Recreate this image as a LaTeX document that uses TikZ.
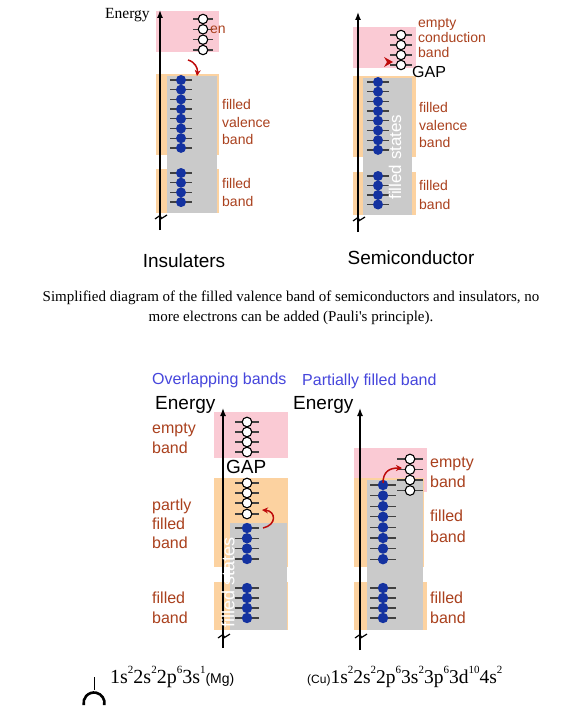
\documentclass[tikz,border=0pt]{standalone}
\usepackage{fontspec}
\setmainfont{Liberation Serif}[Ligatures=TeXOff]
\setsansfont{Liberation Sans}
\usetikzlibrary{arrows.meta}
\definecolor{pinkband}{RGB}{250,202,212}
\definecolor{orangeband}{RGB}{252,210,160}
\definecolor{grayband}{RGB}{202,202,202}
\definecolor{dotblue}{RGB}{20,50,160}
\definecolor{labelbrown}{RGB}{170,65,30}
\definecolor{titleblue}{RGB}{70,70,220}
\definecolor{arrowred}{RGB}{190,10,10}
\newcommand\supx[1]{\raisebox{10pt}{\fontsize{11}{11}\selectfont #1}}
\begin{document}
\begin{tikzpicture}[x=1pt,y=-1pt,
  axisline/.style={line width=1.4pt,-{Latex[length=8pt,width=6pt]}},
  tickline/.style={line width=1.3pt,draw=black!75},
  emptystate/.style={draw=black,fill=white,line width=1.1pt},
  fullstate/.style={fill=dotblue},
  lbl/.style={font=\fontsize{14}{17.5}\selectfont\sffamily,text=labelbrown,align=left,anchor=west,inner sep=0pt},
  biglbl/.style={font=\fontsize{16}{19.5}\selectfont\sffamily,text=labelbrown,align=left,anchor=west,inner sep=0pt},
  ttl/.style={font=\fontsize{19}{22}\selectfont\sffamily,inner sep=0pt},
  bluettl/.style={font=\fontsize{16}{19}\selectfont\sffamily,text=titleblue,anchor=west,inner sep=0pt},
  redarrow/.style={draw=arrowred,line width=1.5pt,-{Stealth[length=6pt,width=6pt]}},
  brk/.style={line width=1.2pt}
]
\useasboundingbox (0,0) rectangle (587,706);
\fill[white] (0,0) rectangle (587,706);

% ===== Panel 1: Insulaters =====
\fill[pinkband] (156,11) rectangle (219,52);
\fill[orangeband] (156,74) rectangle (219,155);
\fill[orangeband] (156,169) rectangle (219,213);
\fill[grayband] (167,76) rectangle (217,213);
\draw[axisline] (160,230) -- (160,10);
\draw[brk] (155,219) -- (160,215.5) -- (161.5,218.5) -- (167,215);
\foreach \y in {19,29.3,39.7,50} {
  \draw[tickline] (193,\y) -- (213,\y);
  \draw[emptystate] (203,\y) circle (4.7);
}
\foreach \y in {80,89.7,99.4,109.1,118.8,128.5,138.2,147.9,173,182.7,192.4,202.1} {
  \draw[tickline] (170,\y) -- (192,\y);
  \fill[fullstate] (181,\y) circle (5);
}
\draw[redarrow] (188,60) .. controls (195,62) and (198,68) .. (197,76);
\node[font=\fontsize{15.5}{16}\selectfont,anchor=west,inner sep=0pt] (en1) at (105,15) {Energy};
\node[lbl] (cb1) at (210,30) {en};
\node[lbl] (vb1) at (222,122) {filled\\valence\\band};
\node[lbl] (fb1) at (222,192.5) {filled\\band};
\node[ttl] (t1) at (184,261) {Insulaters};

% ===== Panel 2: Semiconductor =====
\fill[pinkband] (353,27) rectangle (416,68);
\fill[orangeband] (353,76) rectangle (416,157);
\fill[orangeband] (353,172) rectangle (416,215);
\fill[grayband] (363,78) rectangle (412,215);
\draw[axisline] (358,232) -- (358,12);
\draw[brk] (353,221) -- (358,217.5) -- (359.5,220.5) -- (365,217);
\foreach \y in {35,45,55,65} {
  \draw[tickline] (390,\y) -- (412,\y);
  \draw[emptystate] (401,\y) circle (4.7);
}
\foreach \y in {82,91.7,101.4,111.1,120.8,130.5,140.2,149.9,176,185.5,195,204.5} {
  \draw[tickline] (367,\y) -- (389,\y);
  \fill[fullstate] (378,\y) circle (5);
}
\fill[arrowred] (393,62) -- (384,57) -- (387,62) -- (384,67) -- cycle;
\node[font=\fontsize{17}{17}\selectfont\sffamily,text=white,rotate=90,inner sep=0pt] (fs2) at (395,157) {filled states};
\node[lbl,font=\fontsize{14}{15}\selectfont\sffamily] (cb2) at (418,38) {empty\\conduction\\band};
\node[font=\fontsize{16}{16}\selectfont\sffamily,anchor=west,inner sep=0pt] (gap2) at (412,72) {GAP};
\node[lbl] (vb2) at (419,125) {filled\\valence\\band};
\node[lbl,font=\fontsize{14}{19}\selectfont\sffamily] (fb2) at (419,194.5) {filled\\band};
\node[ttl] (t2) at (411,258) {Semiconductor};

% ===== Caption =====
\node[font=\fontsize{15}{20}\selectfont,align=center,inner sep=0pt] (cap) at (291,308)
  {Simplified diagram of the filled valence band of semiconductors and insulators, no\\more electrons can be added (Pauli's principle).};

% ===== Panel 3: Overlapping bands =====
\node[bluettl] (ob) at (152,380) {Overlapping bands};
\fill[pinkband] (214,412) rectangle (288,458);
\fill[orangeband] (214,478) rectangle (288,567);
\fill[orangeband] (214,582) rectangle (288,630);
\fill[grayband] (230,523) rectangle (287,630);
\draw[axisline] (223,648) -- (223,408);
\draw[brk] (218,638) -- (223,634.5) -- (224.5,637.5) -- (230,634);
\foreach \y in {422,432,442,452,483,493,503,514} {
  \draw[tickline] (235,\y) -- (259,\y);
  \draw[emptystate] (247,\y) circle (4.8);
}
\foreach \y in {528,538.3,548.6,559,588,598,608,618} {
  \draw[tickline] (235,\y) -- (259,\y);
  \fill[fullstate] (247,\y) circle (5.2);
}
\draw[redarrow] (263,528) .. controls (277,525) and (276,511) .. (262,510);
\node[font=\fontsize{18}{18}\selectfont\sffamily,text=white,rotate=90,inner sep=0pt] (fs3) at (228,582) {filled states};
\node[font=\fontsize{19}{19}\selectfont\sffamily,anchor=west,inner sep=0pt] (en3) at (155,405) {Energy};
\node[font=\fontsize{19}{19}\selectfont\sffamily,anchor=west,inner sep=0pt] (gap3) at (226,467) {GAP};
\node[biglbl,font=\fontsize{16}{20}\selectfont\sffamily] (eb3) at (152,438) {empty\\band};
\node[biglbl,font=\fontsize{16}{19}\selectfont\sffamily] (pb3) at (152,524) {partly\\filled\\band};
\node[biglbl,font=\fontsize{16}{20}\selectfont\sffamily] (fb3) at (152,608) {filled\\band};

% ===== Panel 4: Partially filled band =====
\node[bluettl] (pf) at (302,381) {Partially filled band};
\fill[pinkband] (354,448) rectangle (427,492);
\fill[orangeband] (354,478) rectangle (424,567);
\fill[orangeband] (354,582) rectangle (427,630);
\fill[grayband] (367,480) rectangle (423,630);
\draw[axisline] (360,650) -- (360,408);
\draw[brk] (355,638) -- (360,634.5) -- (361.5,637.5) -- (367,634);
\foreach \y in {459,469.5,480,490.5} {
  \draw[tickline] (397,\y) -- (423,\y);
  \draw[emptystate] (410,\y) circle (4.8);
}
\foreach \y in {485,495.6,506.2,516.8,527.4,538,548.6,559.2,588,598,608,618} {
  \draw[tickline] (370,\y) -- (396,\y);
  \fill[fullstate] (383,\y) circle (5.2);
}
\draw[redarrow] (383,483) .. controls (383,472) and (389,468) .. (402,468);
\node[font=\fontsize{19}{19}\selectfont\sffamily,anchor=west,inner sep=0pt] (en4) at (293,405) {Energy};
\node[biglbl,font=\fontsize{16}{19.5}\selectfont\sffamily] (eb4) at (430,472.5) {empty\\band};
\node[biglbl,font=\fontsize{16}{21}\selectfont\sffamily] (fb4) at (430,526) {filled\\band};
\node[biglbl,font=\fontsize{16}{20}\selectfont\sffamily] (fb4b) at (430,608) {filled\\band};

% ===== Formulas =====
\node[anchor=base west,inner sep=0pt] (mg) at (110,683)
  {\fontsize{20}{20}\selectfont 1s\supx{2}2s\supx{2}2p\supx{6}3s\supx{1}{\sffamily\fontsize{14}{14}\selectfont(Mg)}};
\node[anchor=base west,inner sep=0pt] (cu) at (307,683)
  {{\sffamily\fontsize{12}{12}\selectfont(Cu)}\fontsize{19.5}{20}\selectfont 1s\supx{2}2s\supx{2}2p\supx{6}3s\supx{2}3p\supx{6}3d\supx{10}4s\supx{2}};

% ===== cursor mark =====
\draw[line width=1pt] (94,677) -- (94,690);
\draw[line width=2.6pt] (94,703) ++(12:10.5) arc[start angle=12,end angle=-192,radius=10.5];
\end{tikzpicture}
\end{document}
